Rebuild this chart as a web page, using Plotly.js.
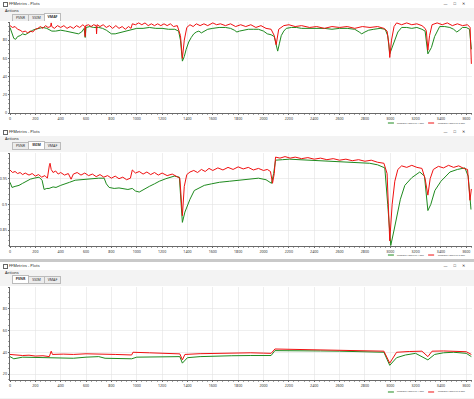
<!DOCTYPE html>
<html><head><meta charset="utf-8">
<script src="https://cdn.plot.ly/plotly-3.0.1.min.js"></script>
<style>
html,body{margin:0;padding:0;width:474px;height:399px;overflow:hidden;background:#c9c9c9;font-family:"Segoe UI","Noto Sans",Arial,sans-serif;}
.win{position:absolute;left:0;width:474px;background:#f3f3f3;}
.tb{position:absolute;left:0;top:0;width:474px;height:8px;background:#fff;font-size:4px;line-height:8px;color:#222;}
.tb .ic{position:absolute;left:3px;top:2px;width:3px;height:3px;border:0.6px solid #666;}
.tb .tt{position:absolute;left:9px;}
.tb .ctl{position:absolute;right:3px;font-size:4px;letter-spacing:6px;}
.menu{position:absolute;left:5px;font-size:4px;color:#222;}
.tabs{position:absolute;left:10px;height:7px;}
.tab{position:absolute;top:0;height:6px;font-size:3.6px;line-height:6px;text-align:center;border:0.5px solid #bbb;background:#ececec;color:#333;}
.tab.sel{background:#fff;font-weight:bold;height:7px;}
.chart{position:absolute;left:0;width:474px;background:#fff;}
</style></head><body>
<div id="root"></div>
<script>
// ---------- data: [frame, value] pairs ----------
const seriesNames = ["encoded-A265NVT-1.mkv", "encoded-A265NVT-2.mkv"];
const xTickVals = [0,200,400,600,800,1000,1200,1400,1600,1800,2000,2200,2400,2600,2800,3000,3200,3400,3600];
const vmafTicks = [0,20,40,60,80,100];
const ssimTicks = [0.85,0.9,0.95,1];
const psnrTicks = [20,40,60,80,100];

const vmafRed = [[0,96],[20,94],[40,95],[60,92],[80,91],[100,89],[120,90],[140,88],[160,90],[180,89],[200,92],[220,93],[240,95],[260,93],[280,96],[300,94],[320,95],[325,99],[330,95],[350,93],[375,96],[400,94],[425,96],[450,93],[475,95],[500,93],[525,96],[550,94],[575,97],[590,95],[593,84],[597,96],[620,97],[640,95],[660,97],[680,96],[683,87],[687,97],[710,95],[735,97],[760,94],[785,96],[810,93],[835,96],[860,93],[885,95],[910,92],[935,95],[955,93],[965,98],[990,97],[1015,99],[1040,97],[1065,99],[1090,96],[1115,98],[1140,96],[1165,98],[1190,96],[1215,98],[1240,96],[1265,98],[1290,95],[1320,96],[1345,85],[1360,60],[1375,80],[1395,94],[1420,97],[1445,95],[1470,98],[1500,96],[1530,98],[1560,96],[1600,99],[1630,97],[1660,98],[1700,96],[1740,98],[1780,95],[1820,97],[1860,95],[1900,97],[1940,94],[1980,96],[2020,93],[2060,92],[2085,85],[2100,75],[2120,92],[2160,96],[2200,97],[2250,95],[2300,96],[2364,94],[2420,95],[2480,93],[2540,95],[2600,94],[2660,95],[2720,93],[2780,95],[2840,94],[2900,95],[2950,93],[2975,90],[2990,75],[2996,61],[3010,80],[3030,95],[3050,99],[3090,97],[3130,99],[3170,97],[3210,98],[3250,96],[3275,93],[3285,90],[3297,69],[3310,85],[3330,97],[3370,99],[3410,97],[3450,99],[3490,96],[3530,98],[3570,96],[3610,97],[3630,94],[3640,54]];
const vmafGreen = [[0,94],[15,88],[30,82],[45,81],[60,84],[80,85],[100,87],[120,86],[140,88],[160,89],[180,91],[200,92],[230,93],[260,94],[290,93],[315,91],[330,90],[360,90],[400,91],[440,90],[480,89],[510,88],[540,87],[565,89],[585,93],[593,83],[600,94],[630,95],[660,94],[700,94],[730,93],[760,91],[785,88],[800,87],[830,87],[860,88],[890,89],[920,90],[950,91],[975,92],[1000,93],[1050,93],[1100,94],[1150,93],[1200,93],[1250,92],[1300,92],[1330,90],[1345,80],[1360,57],[1375,62],[1390,70],[1410,78],[1430,83],[1450,87],[1470,89],[1490,90],[1510,88],[1530,90],[1560,92],[1600,93],[1650,94],[1700,94],[1740,93],[1770,91],[1790,89],[1810,90],[1840,91],[1880,92],[1920,92],[1960,92],[2000,90],[2030,87],[2060,86],[2085,84],[2100,75],[2112,68],[2125,76],[2140,85],[2160,90],[2180,93],[2220,94],[2260,94],[2300,93],[2364,93],[2420,93],[2480,93],[2540,92],[2600,93],[2660,93],[2720,92],[2755,89],[2775,87],[2800,89],[2830,91],[2870,92],[2920,93],[2960,92],[2980,85],[2996,65],[3015,72],[3030,78],[3045,85],[3060,89],[3090,94],[3130,94],[3170,93],[3210,94],[3250,92],[3275,90],[3297,65],[3310,68],[3325,72],[3350,84],[3370,90],[3390,95],[3430,95],[3470,94],[3500,92],[3525,89],[3545,91],[3570,94],[3600,94],[3625,92],[3640,70]];

const ssimRed = [[0,.967],[20,.962],[40,.964],[60,.960],[80,.962],[100,.958],[120,.961],[150,.957],[175,.960],[200,.955],[225,.958],[250,.953],[275,.956],[295,.951],[310,.975],[316,.980],[325,.968],[340,.962],[360,.965],[380,.959],[400,.962],[430,.957],[460,.960],[482,.949],[500,.959],[530,.962],[560,.957],[590,.961],[620,.956],[650,.959],[680,.954],[710,.958],[740,.953],[770,.956],[800,.951],[830,.955],[860,.950],[890,.953],[920,.948],[950,.951],[965,.967],[990,.961],[1020,.964],[1050,.959],[1080,.963],[1110,.958],[1140,.962],[1170,.957],[1200,.961],[1240,.956],[1280,.959],[1320,.953],[1340,.951],[1360,.878],[1375,.935],[1395,.958],[1420,.963],[1450,.966],[1480,.962],[1510,.968],[1540,.964],[1570,.970],[1600,.966],[1640,.971],[1680,.967],[1720,.972],[1760,.968],[1800,.973],[1840,.969],[1880,.972],[1920,.967],[1960,.970],[2000,.966],[2030,.968],[2055,.964],[2071,.941],[2085,.960],[2095,.992],[2130,.990],[2170,.993],[2210,.990],[2250,.992],[2300,.989],[2350,.991],[2400,.988],[2450,.990],[2500,.987],[2550,.989],[2600,.986],[2650,.988],[2700,.985],[2750,.987],[2800,.984],[2850,.986],[2900,.982],[2950,.980],[2975,.960],[2996,.829],[3015,.900],[3036,.945],[3060,.968],[3090,.975],[3130,.972],[3170,.976],[3210,.972],[3250,.970],[3275,.950],[3297,.918],[3315,.950],[3340,.968],[3380,.974],[3420,.971],[3460,.976],[3500,.972],[3540,.975],[3580,.970],[3610,.968],[3629,.908],[3640,.930]];
const ssimGreen = [[0,.943],[16,.933],[40,.935],[71,.937],[100,.941],[126,.945],[160,.949],[190,.951],[229,.953],[253,.947],[269,.929],[290,.931],[308,.931],[340,.934],[363,.933],[400,.937],[427,.939],[470,.943],[514,.947],[550,.948],[593,.949],[640,.950],[700,.951],[743,.951],[760,.940],[782,.933],[822,.931],[860,.932],[901,.931],[930,.929],[965,.931],[990,.926],[1020,.924],[1060,.930],[1099,.935],[1140,.940],[1178,.945],[1230,.950],[1296,.955],[1336,.953],[1360,.865],[1380,.885],[1399,.898],[1420,.910],[1454,.927],[1490,.932],[1533,.937],[1590,.940],[1652,.943],[1730,.945],[1810,.947],[1890,.949],[1960,.951],[2020,.948],[2063,.941],[2080,.960],[2095,.986],[2150,.987],[2206,.988],[2280,.987],[2364,.986],[2440,.985],[2522,.984],[2600,.983],[2680,.982],[2760,.981],[2838,.980],[2900,.977],[2957,.971],[2980,.900],[3004,.820],[3030,.850],[3051,.878],[3080,.910],[3115,.937],[3170,.952],[3233,.963],[3270,.955],[3297,.888],[3320,.900],[3352,.927],[3400,.945],[3471,.963],[3530,.968],[3589,.971],[3615,.955],[3637,.890]];

const psnrRed = [[0,38],[50,37.5],[100,37],[150,37.3],[200,36.5],[260,36.8],[310,36],[325,41],[335,38],[420,38.3],[500,38],[600,38.6],[700,38.5],[830,38],[960,37.5],[970,40],[1100,39.5],[1220,39],[1340,38.5],[1360,33],[1380,38],[1500,38.7],[1600,39],[1750,39.3],[1900,39.5],[2000,39.2],[2060,39],[2090,43],[2200,42.8],[2300,42.5],[2450,42.3],[2600,42],[2780,41.5],[2950,41],[2996,30],[3050,40],[3150,40.7],[3250,41],[3297,36],[3330,41],[3420,41.2],[3500,41],[3600,40.5],[3640,38]];
const psnrGreen = [[0,36],[30,34],[100,35.5],[200,35.3],[300,35],[330,35],[420,34.8],[500,34.5],[600,35.5],[700,36],[750,34.5],[850,34.3],[960,34],[1000,35.5],[1150,35.8],[1340,36],[1360,30],[1400,35],[1500,36],[1600,36.5],[1750,36.8],[1900,37],[2060,37],[2090,41.5],[2200,41.6],[2300,41.5],[2450,41.2],[2600,41],[2780,40.5],[2950,40],[2996,28],[3050,35],[3120,37.5],[3200,39],[3297,33],[3350,38],[3420,39.5],[3500,40],[3600,39],[3640,36]];

const GREEN = "#1e8a1e", RED = "#f01010";

// ---------- window chrome ----------
const wins = [
  {top:0, h:126, sel:2, chartTop:21, chartH:107},
  {top:128, h:131, sel:1, chartTop:152, chartH:107},
  {top:262, h:137, sel:0, chartTop:286, chartH:112}
];
const tabNames = ["PSNR","SSIM","VMAF"];
const tabX = [[2,15],[18,15],[34,15]];
const root = document.getElementById("root");
wins.forEach((w,i)=>{
  const d = document.createElement("div");
  d.className="win"; d.style.top=w.top+"px"; d.style.height=w.h+"px";
  d.innerHTML = '<div class="tb"><div class="ic"></div><span class="tt">FFMetrics - Plots</span><span class="ctl">&#8212;&#9633;&#10005;</span></div>'+
    '<div class="menu" style="top:8px">Actions</div>'+
    '<div class="tabs" style="top:14px">'+tabNames.map((t,k)=>'<div class="tab'+(k===w.sel?' sel':'')+'" style="left:'+tabX[k][0]+'px;width:'+tabX[k][1]+'px;top:'+(k===w.sel?-1:0)+'px">'+t+'</div>').join('')+'</div>';
  root.appendChild(d);
  const c = document.createElement("div");
  c.className="chart"; c.id="chart"+i; c.style.top=w.chartTop+"px"; c.style.height=w.chartH+"px";
  root.appendChild(c);
});

function makeChart(id, green, red, yr, ytv, bottomMargin, legY){
  const traces = [
    {x:green.map(p=>p[0]), y:green.map(p=>p[1]), type:"scatter", mode:"lines", name:seriesNames[0], line:{color:GREEN, width:1}},
    {x:red.map(p=>p[0]), y:red.map(p=>p[1]), type:"scatter", mode:"lines", name:seriesNames[1], line:{color:RED, width:1}}
  ];
  const ax = {
    showline:true, linecolor:"#444", linewidth:0.8, mirror:false,
    ticks:"outside", ticklen:1.5, tickcolor:"#444", tickwidth:0.6,
    tickfont:{size:3.6, color:"#333", family:"Noto Sans, Arial"},
    showgrid:true, gridcolor:"#e3e3e3", gridwidth:0.6, zeroline:false
  };
  // legend drawn as short line samples + labels below the x axis
  const lx = [[0.818,0.831],[0.905,0.918]];
  const shapes = lx.map((p,k)=>({type:"line", xref:"paper", yref:"paper", x0:p[0], x1:p[1], y0:legY, y1:legY, line:{color:k?RED:GREEN, width:1}}));
  const annotations = lx.map((p,k)=>({xref:"paper", yref:"paper", x:p[1]+0.003, y:legY, xanchor:"left", yanchor:"middle", text:seriesNames[k], showarrow:false, font:{size:2.3, color:"#333"}}));
  const layout = {
    width:474, height:document.getElementById(id).offsetHeight,
    margin:{l:10, r:2, t:1, b:bottomMargin, autoexpand:false},
    paper_bgcolor:"#fff", plot_bgcolor:"#fff",
    showlegend:false, shapes:shapes, annotations:annotations,
    xaxis:Object.assign({}, ax, {range:[0,3645], tickmode:"array", tickvals:xTickVals, ticktext:xTickVals.map(String),
      minor:{ticks:"outside", ticklen:1, tickcolor:"#666", dtick:40, showgrid:false}}),
    yaxis:Object.assign({}, ax, {range:yr, tickmode:"array", tickvals:ytv, ticktext:ytv.map(String),
      minor:{ticks:"outside", ticklen:1, tickcolor:"#666", showgrid:false}})
  };
  Plotly.newPlot(id, traces, layout, {staticPlot:true});
}
makeChart("chart0", vmafGreen, vmafRed, [0,100], vmafTicks, 15, -0.11);
makeChart("chart1", ssimGreen, ssimRed, [0.819,1.0], ssimTicks, 13, -0.097);
makeChart("chart2", psnrGreen, psnrRed, [14.5,100], psnrTicks, 18, -0.129);
</script></body></html>
